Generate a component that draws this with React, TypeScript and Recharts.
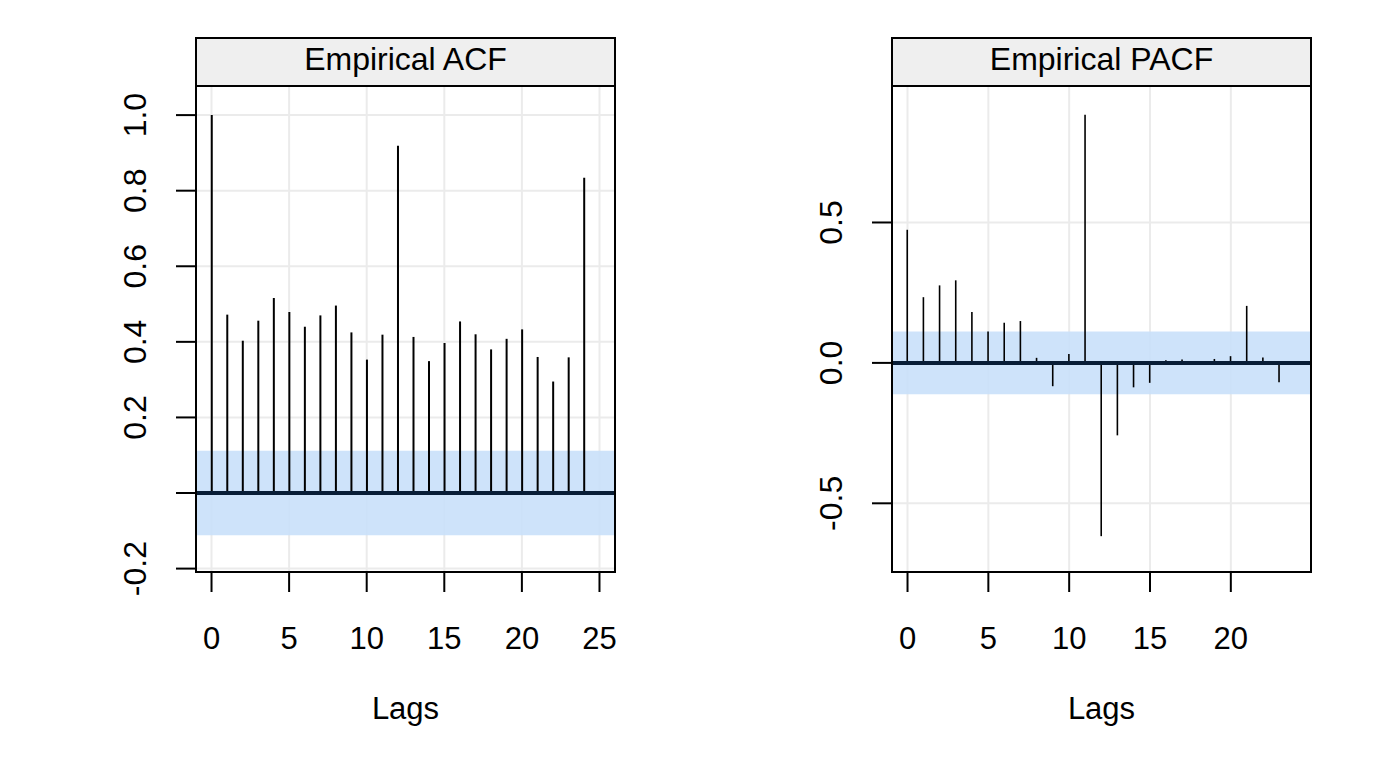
import React from "react";
import {
  ComposedChart,
  Bar,
  XAxis,
  YAxis,
  CartesianGrid,
  ReferenceArea,
  ReferenceLine,
} from "recharts";

const FONT = '"Liberation Sans", Arial, Helvetica, sans-serif';
const BAND_BLUE = "#c9e0fa";
const ZERO_NAVY = "#081d36";
const GRID_GREY = "#ebebeb";
const TITLE_SIZE = 32;
const XTICK_SIZE = 31;
const YTICK_SIZE = 32;

// Empirical ACF (lag 0..24)
const acfLags = [0, 1, 2, 3, 4, 5, 6, 7, 8, 9, 10, 11, 12, 13, 14, 15, 16, 17, 18, 19, 20, 21, 22, 23, 24];
const acfValues = [
  1.0, 0.472, 0.403, 0.456, 0.516, 0.479, 0.44, 0.47, 0.496, 0.425, 0.353, 0.419, 0.919,
  0.413, 0.349, 0.397, 0.454, 0.42, 0.38, 0.408, 0.433, 0.36, 0.295, 0.359, 0.834,
];
const acfBand = 0.112;
const acfXTicks = [0, 5, 10, 15, 20, 25];
const acfYTicks = [-0.2, 0, 0.2, 0.4, 0.6, 0.8, 1.0];

// Empirical PACF (lag 0..23)
const pacfLags = [0, 1, 2, 3, 4, 5, 6, 7, 8, 9, 10, 11, 12, 13, 14, 15, 16, 17, 18, 19, 20, 21, 22, 23];
const pacfValues = [
  0.474, 0.234, 0.276, 0.294, 0.181, 0.112, 0.143, 0.149, 0.018, -0.083, 0.032, 0.884,
  -0.617, -0.258, -0.087, -0.071, 0.009, 0.012, 0.005, 0.014, 0.024, 0.203, 0.019, -0.069,
];
const pacfBand = 0.112;
const pacfXTicks = [0, 5, 10, 15, 20];
const pacfYTicks = [-0.5, 0, 0.5];

function fmtY(v: number): string {
  return v === 0 ? "0.0" : v.toFixed(1);
}

function RotTick(props: any) {
  const { x, y, payload, hideZero } = props;
  if (hideZero && payload.value === 0) return null;
  return (
    <text
      x={x}
      y={y}
      transform={`rotate(-90 ${x} ${y})`}
      textAnchor="middle"
      fontSize={YTICK_SIZE}
      fontFamily={FONT}
      fill="#000"
    >
      {fmtY(payload.value)}
    </text>
  );
}

function BottomTick(props: any) {
  const { x, y, payload } = props;
  return (
    <text x={x} y={y} dy="0.71em" textAnchor="middle" fontSize={XTICK_SIZE} fontFamily={FONT} fill="#000">
      {payload.value}
    </text>
  );
}

function Panel({
  left,
  width,
  plotLeft,
  plotRight,
  title,
  lags,
  values,
  band,
  xDomain,
  yDomain,
  xTicks,
  yTicks,
  hideZero,
  stemWidth,
}: {
  left: number;
  width: number;
  plotLeft: number;
  plotRight: number;
  title: string;
  lags: number[];
  values: number[];
  band: number;
  xDomain: [number, number];
  yDomain: [number, number];
  xTicks: number[];
  yTicks: number[];
  hideZero: boolean;
  stemWidth: number;
}) {
  const data = lags.map((lag, i) => ({ lag, v: values[i] }));
  const plotTop = 86;
  const plotBottom = 572;
  const mid = (plotLeft + plotRight) / 2;
  return (
    <>
      <div style={{ position: "absolute", left, top: 0, width, height: 768 }}>
        <ComposedChart
          width={width}
          height={768}
          data={data}
          margin={{ top: plotTop, left: plotLeft - left - 60, right: left + width - plotRight, bottom: 768 - plotBottom - 60 }}
        >
          <CartesianGrid stroke={GRID_GREY} strokeWidth={2} />
          <XAxis
            dataKey="lag"
            type="number"
            domain={xDomain}
            allowDataOverflow
            ticks={xTicks}
            interval={0}
            height={60}
            axisLine={false}
            tickLine={{ stroke: "#000", strokeWidth: 2 }}
            tickSize={20}
            tickMargin={35}
            tick={<BottomTick />}
          />
          <YAxis
            type="number"
            domain={yDomain}
            allowDataOverflow
            ticks={yTicks}
            interval={0}
            width={60}
            axisLine={false}
            tickLine={{ stroke: "#000", strokeWidth: 2 }}
            tickSize={20}
            tickMargin={30}
            tick={<RotTick hideZero={hideZero} />}
          />
          <ReferenceArea
            y1={-band}
            y2={band}
            x1={xDomain[0]}
            x2={xDomain[1]}
            fill={BAND_BLUE}
            fillOpacity={0.9}
            stroke="none"
            ifOverflow="hidden"
          />
          <Bar dataKey="v" barSize={stemWidth} fill="#000" isAnimationActive={false} />
          <ReferenceLine y={0} stroke={ZERO_NAVY} strokeWidth={4} ifOverflow="hidden" />
        </ComposedChart>
      </div>
      {/* strip */}
      <div
        style={{
          position: "absolute",
          left: plotLeft - 1,
          top: 37.3,
          width: plotRight - plotLeft + 2,
          height: plotTop - 37.3 + 1,
          boxSizing: "border-box",
          border: "2px solid #000",
          background: "#efefef",
        }}
      />
      <div
        style={{
          position: "absolute",
          left: mid - 200,
          width: 400,
          top: 70 - 0.8465 * TITLE_SIZE,
          fontSize: TITLE_SIZE,
          lineHeight: 1,
          fontFamily: FONT,
          textAlign: "center",
          color: "#000",
        }}
      >
        {title}
      </div>
      {/* plot box */}
      <div
        style={{
          position: "absolute",
          left: plotLeft - 1,
          top: plotTop - 1,
          width: plotRight - plotLeft + 2,
          height: plotBottom - plotTop + 2,
          boxSizing: "border-box",
          border: "2px solid #000",
          pointerEvents: "none",
        }}
      />
      <div
        style={{
          position: "absolute",
          left: mid - 100,
          width: 200,
          top: 719 - 0.8465 * XTICK_SIZE,
          fontSize: XTICK_SIZE,
          lineHeight: 1,
          fontFamily: FONT,
          textAlign: "center",
          color: "#000",
        }}
      >
        Lags
      </div>
    </>
  );
}

export default function App() {
  return (
    <div style={{ position: "absolute", left: 0, top: 0, width: 1392, height: 768, background: "#fff", overflow: "hidden" }}>
      <Panel
        left={0}
        width={700}
        plotLeft={196}
        plotRight={615}
        title="Empirical ACF"
        lags={acfLags}
        values={acfValues}
        band={acfBand}
        xDomain={[-1, 26]}
        yDomain={[-0.209, 1.077]}
        xTicks={acfXTicks}
        yTicks={acfYTicks}
        hideZero
        stemWidth={2}
      />
      <Panel
        left={700}
        width={692}
        plotLeft={892}
        plotRight={1311}
        title="Empirical PACF"
        lags={pacfLags}
        values={pacfValues}
        band={pacfBand}
        xDomain={[-0.96, 24.96]}
        yDomain={[-0.7446, 0.986]}
        xTicks={pacfXTicks}
        yTicks={pacfYTicks}
        hideZero={false}
        stemWidth={1.6}
      />
    </div>
  );
}
